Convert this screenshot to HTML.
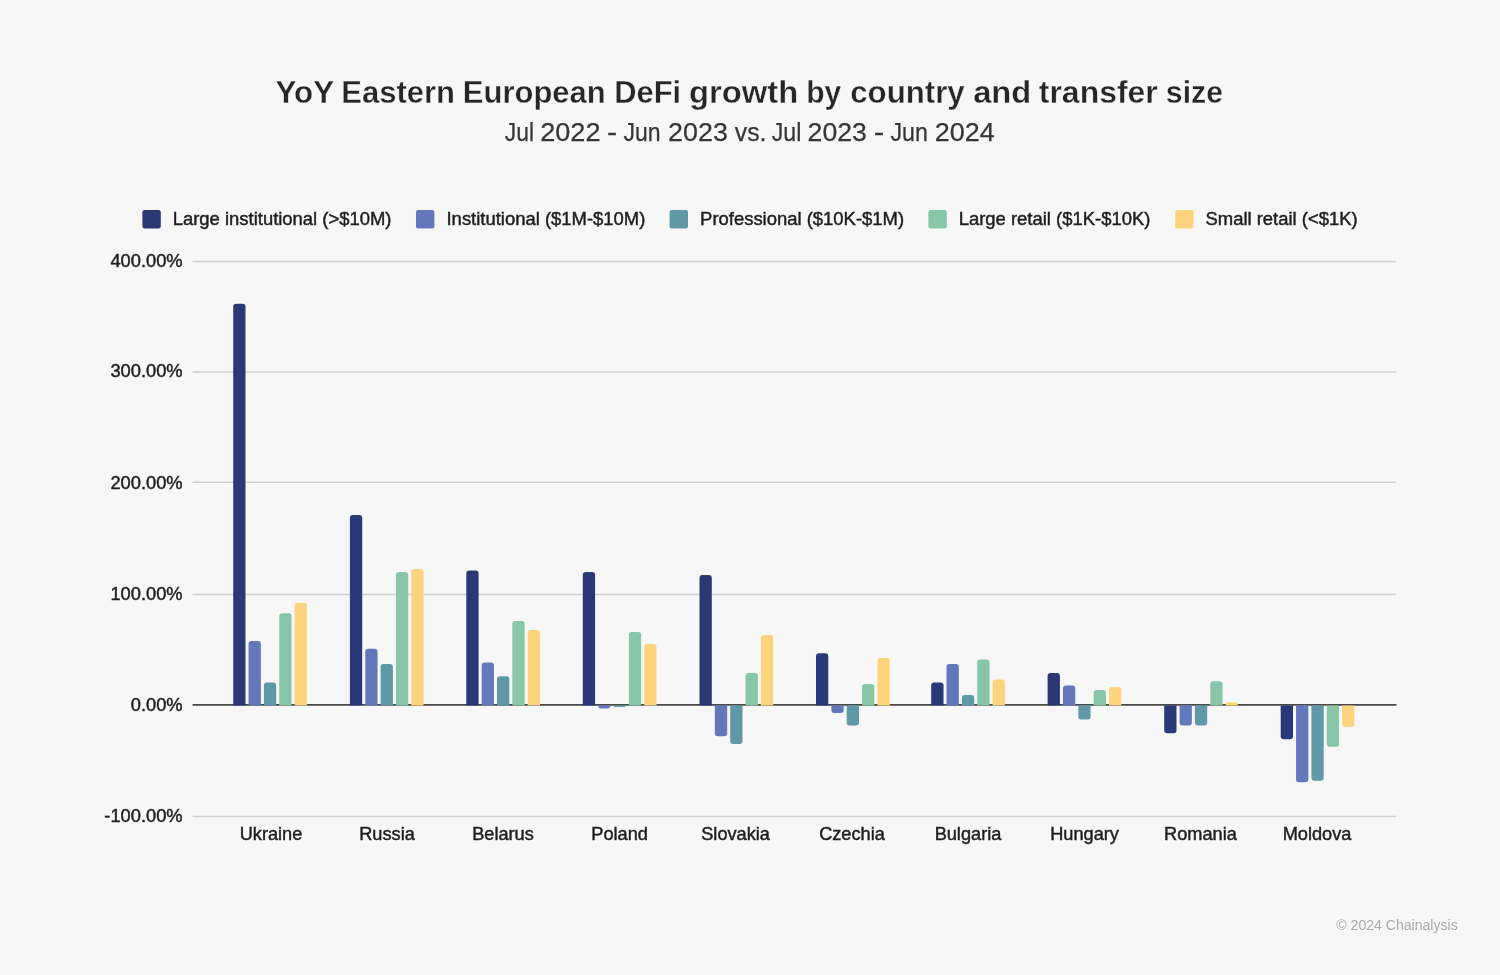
<!DOCTYPE html>
<html lang="en"><head><meta charset="utf-8"><title>YoY Eastern European DeFi growth by country and transfer size</title>
<style>html,body{margin:0;padding:0;background:#f7f7f7}body{width:1500px;height:975px;overflow:hidden}svg{display:block}text{font-family:"Liberation Sans",sans-serif}</style></head><body>
<svg width="1500" height="975" viewBox="0 0 1500 975">
<rect width="1500" height="975" fill="#f7f7f7"/>
<defs><filter id="soft" x="0" y="0" width="1500" height="975" filterUnits="userSpaceOnUse"><feGaussianBlur stdDeviation="0.4"/></filter></defs>
<g filter="url(#soft)">
<text id="title" y="103.3" font-size="32" font-weight="700" fill="#262626" stroke="#f7f7f7" stroke-width="0.35"><tspan x="275.52" textLength="58.13" lengthAdjust="spacingAndGlyphs">YoY</tspan> <tspan x="341.26" textLength="113.76" lengthAdjust="spacingAndGlyphs">Eastern</tspan> <tspan x="462.87" textLength="142.85" lengthAdjust="spacingAndGlyphs">European</tspan> <tspan x="614.27" textLength="66.89" lengthAdjust="spacingAndGlyphs">DeFi</tspan> <tspan x="688.97" textLength="109.22" lengthAdjust="spacingAndGlyphs">growth</tspan> <tspan x="806.23" textLength="35.00" lengthAdjust="spacingAndGlyphs">by</tspan> <tspan x="850.23" textLength="114.51" lengthAdjust="spacingAndGlyphs">country</tspan> <tspan x="973.18" textLength="58.16" lengthAdjust="spacingAndGlyphs">and</tspan> <tspan x="1038.80" textLength="118.95" lengthAdjust="spacingAndGlyphs">transfer</tspan> <tspan x="1165.86" textLength="57.06" lengthAdjust="spacingAndGlyphs">size</tspan></text>
<text id="sub" y="140.6" font-size="25.5" fill="#363636" stroke="#363636" stroke-width="0.25"><tspan x="504.84" textLength="29.28" lengthAdjust="spacingAndGlyphs">Jul</tspan> <tspan x="540.22" textLength="60.29" lengthAdjust="spacingAndGlyphs">2022</tspan> <tspan x="606.99" textLength="10.11" lengthAdjust="spacingAndGlyphs">-</tspan> <tspan x="623.54" textLength="37.11" lengthAdjust="spacingAndGlyphs">Jun</tspan> <tspan x="668.13" textLength="59.75" lengthAdjust="spacingAndGlyphs">2023</tspan> <tspan x="734.80" textLength="31.72" lengthAdjust="spacingAndGlyphs">vs.</tspan> <tspan x="771.74" textLength="29.60" lengthAdjust="spacingAndGlyphs">Jul</tspan> <tspan x="807.64" textLength="59.23" lengthAdjust="spacingAndGlyphs">2023</tspan> <tspan x="873.84" textLength="10.51" lengthAdjust="spacingAndGlyphs">-</tspan> <tspan x="890.44" textLength="37.42" lengthAdjust="spacingAndGlyphs">Jun</tspan> <tspan x="934.83" textLength="59.95" lengthAdjust="spacingAndGlyphs">2024</tspan></text>
<rect x="142.4" y="210" width="18.4" height="18.4" rx="2.2" fill="#2a3874"/>
<text class="leg" x="172.7" y="225" font-size="18.45" fill="#1e1e1e" stroke="#1e1e1e" stroke-width="0.45">Large institutional (&gt;$10M)</text>
<rect x="416" y="210" width="18.4" height="18.4" rx="2.2" fill="#6378bb"/>
<text class="leg" x="446.5" y="225" font-size="18.45" fill="#1e1e1e" stroke="#1e1e1e" stroke-width="0.45">Institutional ($1M-$10M)</text>
<rect x="669.6" y="210" width="18.4" height="18.4" rx="2.2" fill="#5e99a8"/>
<text class="leg" x="700.1" y="225" font-size="18.45" fill="#1e1e1e" stroke="#1e1e1e" stroke-width="0.45">Professional ($10K-$1M)</text>
<rect x="928.4" y="210" width="18.4" height="18.4" rx="2.2" fill="#87c6a7"/>
<text class="leg" x="958.7" y="225" font-size="18.45" fill="#1e1e1e" stroke="#1e1e1e" stroke-width="0.45">Large retail ($1K-$10K)</text>
<rect x="1175.2" y="210" width="18.4" height="18.4" rx="2.2" fill="#fdd47e"/>
<text class="leg" x="1205.5" y="225" font-size="18.45" fill="#1e1e1e" stroke="#1e1e1e" stroke-width="0.45">Small retail (&lt;$1K)</text>
<line x1="192.6" x2="1396.4" y1="261.5" y2="261.5" stroke="#cfcfcf" stroke-width="1.5"/>
<line x1="192.6" x2="1396.4" y1="372.0" y2="372.0" stroke="#cfcfcf" stroke-width="1.5"/>
<line x1="192.6" x2="1396.4" y1="482.3" y2="482.3" stroke="#cfcfcf" stroke-width="1.5"/>
<line x1="192.6" x2="1396.4" y1="594.4" y2="594.4" stroke="#cfcfcf" stroke-width="1.5"/>
<line x1="192.6" x2="1396.4" y1="816.5" y2="816.5" stroke="#cfcfcf" stroke-width="1.5"/>
<line x1="192.6" x2="1396.4" y1="704.8" y2="704.8" stroke="#484848" stroke-width="1.8"/>
<text class="yl" x="182.6" y="266.8" text-anchor="end" font-size="18.3" fill="#1e1e1e" stroke="#1e1e1e" stroke-width="0.45">400.00%</text>
<text class="yl" x="182.6" y="377.0" text-anchor="end" font-size="18.3" fill="#1e1e1e" stroke="#1e1e1e" stroke-width="0.45">300.00%</text>
<text class="yl" x="182.6" y="488.7" text-anchor="end" font-size="18.3" fill="#1e1e1e" stroke="#1e1e1e" stroke-width="0.45">200.00%</text>
<text class="yl" x="182.6" y="599.7" text-anchor="end" font-size="18.3" fill="#1e1e1e" stroke="#1e1e1e" stroke-width="0.45">100.00%</text>
<text class="yl" x="182.6" y="710.8" text-anchor="end" font-size="18.3" fill="#1e1e1e" stroke="#1e1e1e" stroke-width="0.45">0.00%</text>
<text class="yl" x="182.6" y="821.5" text-anchor="end" font-size="18.3" fill="#1e1e1e" stroke="#1e1e1e" stroke-width="0.45">-100.00%</text>
<path d="M233.20 705.60V306.70A3.0 3.0 0 0 1 236.20 303.70H242.50A3.0 3.0 0 0 1 245.50 306.70V705.60Z" fill="#2a3874"/>
<path d="M248.55 705.60V644.10A3.0 3.0 0 0 1 251.55 641.10H257.85A3.0 3.0 0 0 1 260.85 644.10V705.60Z" fill="#6378bb"/>
<path d="M263.90 705.60V685.40A3.0 3.0 0 0 1 266.90 682.40H273.20A3.0 3.0 0 0 1 276.20 685.40V705.60Z" fill="#5e99a8"/>
<path d="M279.25 705.60V616.30A3.0 3.0 0 0 1 282.25 613.30H288.55A3.0 3.0 0 0 1 291.55 616.30V705.60Z" fill="#87c6a7"/>
<path d="M294.60 705.60V605.70A3.0 3.0 0 0 1 297.60 602.70H303.90A3.0 3.0 0 0 1 306.90 605.70V705.60Z" fill="#fdd47e"/>
<path d="M349.90 705.60V518.10A3.0 3.0 0 0 1 352.90 515.10H359.20A3.0 3.0 0 0 1 362.20 518.10V705.60Z" fill="#2a3874"/>
<path d="M365.25 705.60V651.80A3.0 3.0 0 0 1 368.25 648.80H374.55A3.0 3.0 0 0 1 377.55 651.80V705.60Z" fill="#6378bb"/>
<path d="M380.60 705.60V667.00A3.0 3.0 0 0 1 383.60 664.00H389.90A3.0 3.0 0 0 1 392.90 667.00V705.60Z" fill="#5e99a8"/>
<path d="M395.95 705.60V575.10A3.0 3.0 0 0 1 398.95 572.10H405.25A3.0 3.0 0 0 1 408.25 575.10V705.60Z" fill="#87c6a7"/>
<path d="M411.30 705.60V571.90A3.0 3.0 0 0 1 414.30 568.90H420.60A3.0 3.0 0 0 1 423.60 571.90V705.60Z" fill="#fdd47e"/>
<path d="M466.30 705.60V573.40A3.0 3.0 0 0 1 469.30 570.40H475.60A3.0 3.0 0 0 1 478.60 573.40V705.60Z" fill="#2a3874"/>
<path d="M481.65 705.60V665.40A3.0 3.0 0 0 1 484.65 662.40H490.95A3.0 3.0 0 0 1 493.95 665.40V705.60Z" fill="#6378bb"/>
<path d="M497.00 705.60V679.30A3.0 3.0 0 0 1 500.00 676.30H506.30A3.0 3.0 0 0 1 509.30 679.30V705.60Z" fill="#5e99a8"/>
<path d="M512.35 705.60V624.10A3.0 3.0 0 0 1 515.35 621.10H521.65A3.0 3.0 0 0 1 524.65 624.10V705.60Z" fill="#87c6a7"/>
<path d="M527.70 705.60V633.10A3.0 3.0 0 0 1 530.70 630.10H537.00A3.0 3.0 0 0 1 540.00 633.10V705.60Z" fill="#fdd47e"/>
<path d="M582.80 705.60V575.00A3.0 3.0 0 0 1 585.80 572.00H592.10A3.0 3.0 0 0 1 595.10 575.00V705.60Z" fill="#2a3874"/>
<path d="M598.15 705.60V705.60A2.8999999999999773 2.8999999999999773 0 0 0 601.05 708.50H607.55A2.8999999999999773 2.8999999999999773 0 0 0 610.45 705.60V705.60Z" fill="#6378bb"/>
<path d="M613.50 705.60V705.60A1.2999999999999545 1.2999999999999545 0 0 0 614.80 706.90H624.50A1.2999999999999545 1.2999999999999545 0 0 0 625.80 705.60V705.60Z" fill="#5e99a8"/>
<path d="M628.85 705.60V635.00A3.0 3.0 0 0 1 631.85 632.00H638.15A3.0 3.0 0 0 1 641.15 635.00V705.60Z" fill="#87c6a7"/>
<path d="M644.20 705.60V647.00A3.0 3.0 0 0 1 647.20 644.00H653.50A3.0 3.0 0 0 1 656.50 647.00V705.60Z" fill="#fdd47e"/>
<path d="M699.50 705.60V577.90A3.0 3.0 0 0 1 702.50 574.90H708.80A3.0 3.0 0 0 1 711.80 577.90V705.60Z" fill="#2a3874"/>
<path d="M714.85 705.60V733.30A3.0 3.0 0 0 0 717.85 736.30H724.15A3.0 3.0 0 0 0 727.15 733.30V705.60Z" fill="#6378bb"/>
<path d="M730.20 705.60V741.00A3.0 3.0 0 0 0 733.20 744.00H739.50A3.0 3.0 0 0 0 742.50 741.00V705.60Z" fill="#5e99a8"/>
<path d="M745.55 705.60V676.10A3.0 3.0 0 0 1 748.55 673.10H754.85A3.0 3.0 0 0 1 757.85 676.10V705.60Z" fill="#87c6a7"/>
<path d="M760.90 705.60V637.90A3.0 3.0 0 0 1 763.90 634.90H770.20A3.0 3.0 0 0 1 773.20 637.90V705.60Z" fill="#fdd47e"/>
<path d="M816.00 705.60V656.30A3.0 3.0 0 0 1 819.00 653.30H825.30A3.0 3.0 0 0 1 828.30 656.30V705.60Z" fill="#2a3874"/>
<path d="M831.35 705.60V710.10A3.0 3.0 0 0 0 834.35 713.10H840.65A3.0 3.0 0 0 0 843.65 710.10V705.60Z" fill="#6378bb"/>
<path d="M846.70 705.60V722.60A3.0 3.0 0 0 0 849.70 725.60H856.00A3.0 3.0 0 0 0 859.00 722.60V705.60Z" fill="#5e99a8"/>
<path d="M862.05 705.60V687.00A3.0 3.0 0 0 1 865.05 684.00H871.35A3.0 3.0 0 0 1 874.35 687.00V705.60Z" fill="#87c6a7"/>
<path d="M877.40 705.60V660.90A3.0 3.0 0 0 1 880.40 657.90H886.70A3.0 3.0 0 0 1 889.70 660.90V705.60Z" fill="#fdd47e"/>
<path d="M931.20 705.60V685.40A3.0 3.0 0 0 1 934.20 682.40H940.50A3.0 3.0 0 0 1 943.50 685.40V705.60Z" fill="#2a3874"/>
<path d="M946.55 705.60V667.00A3.0 3.0 0 0 1 949.55 664.00H955.85A3.0 3.0 0 0 1 958.85 667.00V705.60Z" fill="#6378bb"/>
<path d="M961.90 705.60V697.90A3.0 3.0 0 0 1 964.90 694.90H971.20A3.0 3.0 0 0 1 974.20 697.90V705.60Z" fill="#5e99a8"/>
<path d="M977.25 705.60V662.40A3.0 3.0 0 0 1 980.25 659.40H986.55A3.0 3.0 0 0 1 989.55 662.40V705.60Z" fill="#87c6a7"/>
<path d="M992.60 705.60V682.40A3.0 3.0 0 0 1 995.60 679.40H1001.90A3.0 3.0 0 0 1 1004.90 682.40V705.60Z" fill="#fdd47e"/>
<path d="M1047.60 705.60V676.10A3.0 3.0 0 0 1 1050.60 673.10H1056.90A3.0 3.0 0 0 1 1059.90 676.10V705.60Z" fill="#2a3874"/>
<path d="M1062.95 705.60V688.60A3.0 3.0 0 0 1 1065.95 685.60H1072.25A3.0 3.0 0 0 1 1075.25 688.60V705.60Z" fill="#6378bb"/>
<path d="M1078.30 705.60V716.40A3.0 3.0 0 0 0 1081.30 719.40H1087.60A3.0 3.0 0 0 0 1090.60 716.40V705.60Z" fill="#5e99a8"/>
<path d="M1093.65 705.60V693.10A3.0 3.0 0 0 1 1096.65 690.10H1102.95A3.0 3.0 0 0 1 1105.95 693.10V705.60Z" fill="#87c6a7"/>
<path d="M1109.00 705.60V690.00A3.0 3.0 0 0 1 1112.00 687.00H1118.30A3.0 3.0 0 0 1 1121.30 690.00V705.60Z" fill="#fdd47e"/>
<path d="M1164.20 705.60V730.20A3.0 3.0 0 0 0 1167.20 733.20H1173.50A3.0 3.0 0 0 0 1176.50 730.20V705.60Z" fill="#2a3874"/>
<path d="M1179.55 705.60V722.40A3.0 3.0 0 0 0 1182.55 725.40H1188.85A3.0 3.0 0 0 0 1191.85 722.40V705.60Z" fill="#6378bb"/>
<path d="M1194.90 705.60V722.40A3.0 3.0 0 0 0 1197.90 725.40H1204.20A3.0 3.0 0 0 0 1207.20 722.40V705.60Z" fill="#5e99a8"/>
<path d="M1210.25 705.60V684.20A3.0 3.0 0 0 1 1213.25 681.20H1219.55A3.0 3.0 0 0 1 1222.55 684.20V705.60Z" fill="#87c6a7"/>
<path d="M1225.60 705.60V705.30A3.0 3.0 0 0 1 1228.60 702.30H1234.90A3.0 3.0 0 0 1 1237.90 705.30V705.60Z" fill="#fdd47e"/>
<path d="M1280.70 705.60V736.30A3.0 3.0 0 0 0 1283.70 739.30H1290.00A3.0 3.0 0 0 0 1293.00 736.30V705.60Z" fill="#2a3874"/>
<path d="M1296.05 705.60V779.30A3.0 3.0 0 0 0 1299.05 782.30H1305.35A3.0 3.0 0 0 0 1308.35 779.30V705.60Z" fill="#6378bb"/>
<path d="M1311.40 705.60V777.70A3.0 3.0 0 0 0 1314.40 780.70H1320.70A3.0 3.0 0 0 0 1323.70 777.70V705.60Z" fill="#5e99a8"/>
<path d="M1326.75 705.60V743.80A3.0 3.0 0 0 0 1329.75 746.80H1336.05A3.0 3.0 0 0 0 1339.05 743.80V705.60Z" fill="#87c6a7"/>
<path d="M1342.10 705.60V723.80A3.0 3.0 0 0 0 1345.10 726.80H1351.40A3.0 3.0 0 0 0 1354.40 723.80V705.60Z" fill="#fdd47e"/>
<text class="xl" x="271" y="839.6" text-anchor="middle" font-size="18.2" fill="#1e1e1e" stroke="#1e1e1e" stroke-width="0.45">Ukraine</text>
<text class="xl" x="387" y="839.6" text-anchor="middle" font-size="18.2" fill="#1e1e1e" stroke="#1e1e1e" stroke-width="0.45">Russia</text>
<text class="xl" x="503" y="839.6" text-anchor="middle" font-size="18.2" fill="#1e1e1e" stroke="#1e1e1e" stroke-width="0.45">Belarus</text>
<text class="xl" x="619.6" y="839.6" text-anchor="middle" font-size="18.2" fill="#1e1e1e" stroke="#1e1e1e" stroke-width="0.45">Poland</text>
<text class="xl" x="735.6" y="839.6" text-anchor="middle" font-size="18.2" fill="#1e1e1e" stroke="#1e1e1e" stroke-width="0.45">Slovakia</text>
<text class="xl" x="852" y="839.6" text-anchor="middle" font-size="18.2" fill="#1e1e1e" stroke="#1e1e1e" stroke-width="0.45">Czechia</text>
<text class="xl" x="968" y="839.6" text-anchor="middle" font-size="18.2" fill="#1e1e1e" stroke="#1e1e1e" stroke-width="0.45">Bulgaria</text>
<text class="xl" x="1084.6" y="839.6" text-anchor="middle" font-size="18.2" fill="#1e1e1e" stroke="#1e1e1e" stroke-width="0.45">Hungary</text>
<text class="xl" x="1200.4" y="839.6" text-anchor="middle" font-size="18.2" fill="#1e1e1e" stroke="#1e1e1e" stroke-width="0.45">Romania</text>
<text class="xl" x="1317" y="839.6" text-anchor="middle" font-size="18.2" fill="#1e1e1e" stroke="#1e1e1e" stroke-width="0.45">Moldova</text>
<text id="foot" x="1457.7" y="930.4" text-anchor="end" font-size="14" fill="#a9a9a9" textLength="121.4" lengthAdjust="spacingAndGlyphs">© 2024 Chainalysis</text>
</g>
</svg></body></html>
